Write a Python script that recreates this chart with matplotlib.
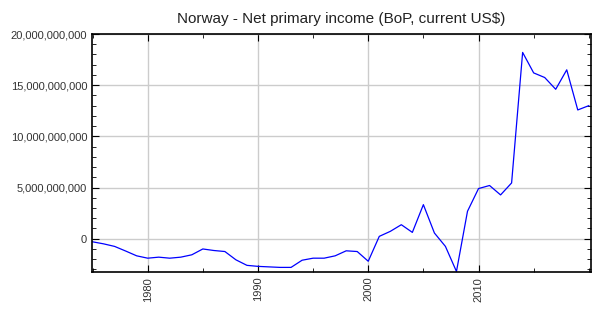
import matplotlib.pyplot as plt
from matplotlib.ticker import MultipleLocator, FuncFormatter

plt.rcParams['font.family'] = ['Liberation Sans', 'DejaVu Sans']

years = list(range(1975, 2021))
# net primary income, US$
income = [-0.30e9, -0.50e9, -0.75e9, -1.20e9, -1.67e9, -1.90e9, -1.80e9, -1.90e9,
          -1.80e9, -1.57e9, -1.00e9, -1.15e9, -1.25e9, -2.06e9, -2.60e9, -2.70e9,
          -2.75e9, -2.80e9, -2.80e9, -2.10e9, -1.90e9, -1.90e9, -1.67e9, -1.18e9,
          -1.25e9, -2.20e9, 0.23e9, 0.72e9, 1.37e9, 0.62e9, 3.33e9, 0.56e9,
          -0.75e9, -3.20e9, 2.68e9, 4.90e9, 5.20e9, 4.28e9, 5.45e9, 18.20e9,
          16.20e9, 15.75e9, 14.60e9, 16.50e9, 12.58e9, 13.00e9]
xticks = [1980, 1990, 2000, 2010]
title = 'Norway - Net primary income (BoP, current US$)'

fig = plt.figure(figsize=(6, 3.15), dpi=100)
ax = fig.add_axes([92 / 600, 1 - 272 / 315, 499 / 600, 238 / 315])

ax.plot(years, income, color='#0000ff', linewidth=0.9)
ax.set_xlim(1974.95, 2020.2)
ax.set_ylim(-3.25e9, 20e9)

ax.set_xticks(xticks)
ax.xaxis.set_minor_locator(MultipleLocator(5))
ax.yaxis.set_major_locator(MultipleLocator(5e9))
ax.yaxis.set_minor_locator(MultipleLocator(1e9))
ax.yaxis.set_major_formatter(FuncFormatter(lambda v, p: f'{v:,.0f}'))

ax.grid(True, which='major', color='#cccccc', linewidth=1)
ax.set_axisbelow(True)
ax.tick_params(which='both', direction='in', top=True, right=True,
               labelsize=8, colors='black', labelcolor='#333333')
ax.tick_params(which='major', length=5)
ax.tick_params(which='minor', length=3)
for lbl in ax.get_xticklabels():
    lbl.set_rotation(90)
for s in ax.spines.values():
    s.set_linewidth(1.2)

ax.set_title(title, fontsize=11, color='#222222', pad=8)

fig.savefig('out.png', dpi=100)
